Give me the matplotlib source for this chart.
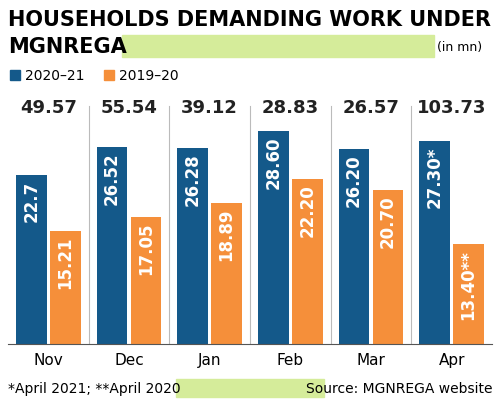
import matplotlib.pyplot as plt
import numpy as np
from matplotlib.patches import Rectangle

months = ["Nov", "Dec", "Jan", "Feb", "Mar", "Apr"]
totals = ["49.57", "55.54", "39.12", "28.83", "26.57", "103.73"]
v2021 = [22.7, 26.52, 26.28, 28.60, 26.20, 27.30]
v1920 = [15.21, 17.05, 18.89, 22.20, 20.70, 13.40]
lab2021 = ["22.7", "26.52", "26.28", "28.60", "26.20", "27.30*"]
lab1920 = ["15.21", "17.05", "18.89", "22.20", "20.70", "13.40**"]

blue = "#14598a"; orange = "#f58f3a"; green = "#d5ec9a"
plt.rcParams['font.family'] = ['Liberation Sans Narrow', 'DejaVu Sans']
fig = plt.figure(figsize=(5, 4.06), dpi=100)
W, H = 500, 406
ax = fig.add_axes([8/W, 1-345/H, 484/W, 245/H])
x = np.arange(len(months))
w = 0.38
ax.bar(x - 0.21, v2021, w, color=blue)
ax.bar(x + 0.21, v1920, w, color=orange)
ax.set_ylim(0, 32.9)
ax.set_xlim(-0.5, 5.5)
for i in range(len(months)):
    ax.text(x[i]-0.21, v2021[i]-0.6, lab2021[i], rotation=90, ha='center', va='top', color='white', fontsize=12, fontweight='bold')
    ax.text(x[i]+0.21, v1920[i]-0.6, lab1920[i], rotation=90, ha='center', va='top', color='white', fontsize=12, fontweight='bold')
    ax.text(x[i], 30.6, totals[i], ha='center', va='bottom', fontsize=13, fontweight='bold', color='#222')
for i in range(1, len(months)):
    ax.axvline(i-0.5, color='#bbbbbb', lw=0.8, ymin=0, ymax=0.97)
ax.set_xticks(x)
ax.set_xticklabels(months, fontsize=11)
ax.tick_params(axis='x', length=0, pad=6)
ax.set_yticks([])
for s in ['top', 'left', 'right']:
    ax.spines[s].set_visible(False)
ax.spines['bottom'].set_color('#555')

fig.text(8/W, 1-20/H, "HOUSEHOLDS DEMANDING WORK UNDER", fontsize=15, fontweight='bold', va='center')
fig.text(8/W, 1-47/H, "MGNREGA", fontsize=15, fontweight='bold', va='center')
fig.patches.append(Rectangle((122/W, 1-58/H), 312/W, 22/H, transform=fig.transFigure, color=green))
fig.text(437/W, 1-47/H, "(in mn)", fontsize=9, va='center')
fig.patches.append(Rectangle((10/W, 1-81/H), 10/W, 10/H, transform=fig.transFigure, color=blue))
fig.text(25/W, 1-76/H, "2020–21", fontsize=10, va='center')
fig.patches.append(Rectangle((104/W, 1-81/H), 10/W, 10/H, transform=fig.transFigure, color=orange))
fig.text(119/W, 1-76/H, "2019–20", fontsize=10, va='center')
fig.text(8/W, 1-389/H, "*April 2021; **April 2020", fontsize=10, va='center')
fig.patches.append(Rectangle((176/W, 1-398/H), 148/W, 18/H, transform=fig.transFigure, color=green))
fig.text(492/W, 1-389/H, "Source: MGNREGA website", fontsize=10, va='center', ha='right')
fig.savefig("out.png", dpi=100)
